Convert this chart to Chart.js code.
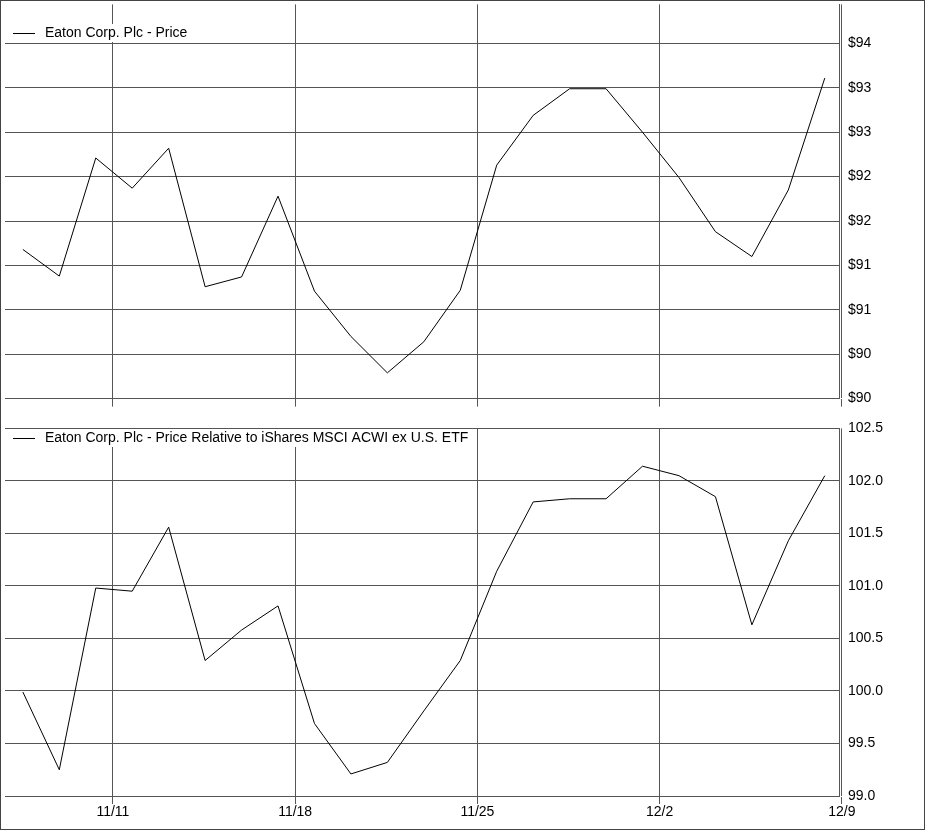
<!DOCTYPE html>
<html><head><meta charset="utf-8">
<script src="https://cdn.jsdelivr.net/npm/chart.js@4"></script>
<style>
body{margin:0;background:#fff;font-family:"Liberation Sans",Arial,sans-serif}
#wrap{position:relative;width:925px;height:830px;box-sizing:border-box;border:1px solid #444;overflow:hidden}
.c{position:absolute;left:0}
</style></head><body>
<div id="wrap">
<div class="c" style="top:-14px;width:923px;height:429px"><canvas id="a"></canvas></div>
<div class="c" style="top:410px;width:923px;height:418px"><canvas id="b"></canvas></div>
</div>
<script>
const priceValues=[91.68,91.38,92.71,92.37,92.82,91.26,91.37,92.28,91.21,90.70,90.29,90.64,91.22,92.63,93.19,93.49,93.49,93.0,92.49,91.88,91.60,92.35,93.61];
const relValues=[99.99,99.25,100.98,100.95,101.56,100.29,100.58,100.81,99.69,99.21,99.32,99.81,100.29,101.14,101.80,101.83,101.83,102.14,102.05,101.85,100.63,101.43,102.05];
const dateLabels=['11/11','11/18','11/25','12/2','12/9'];
const datePos=[2.47,7.47,12.47,17.47,22.47];
const titles=['Eaton Corp. Plc - Price','Eaton Corp. Plc - Price Relative to iShares MSCI ACWI ex U.S. ETF'];
const F='"Liberation Sans", Arial, sans-serif';
Chart.defaults.font.family=F;Chart.defaults.font.size=14;Chart.defaults.color='#000';
function pts(v){return v.map((y,i)=>({x:i,y}));}
function legendPlugin(t,yy){return{id:'lg'+yy,afterDraw(c){const x=c.ctx;x.save();x.font='14px '+F;const w=x.measureText(t).width;
x.fillStyle='#fff';x.fillRect(5,yy-9,44+w-3,18);x.strokeStyle='#000';x.lineWidth=1;x.beginPath();x.moveTo(12,yy+0.5);x.lineTo(34,yy+0.5);x.stroke();
x.fillStyle='#000';x.textBaseline='middle';x.fillText(t,44,yy);x.restore();}};}
function make(id,vals,title,legY,yopt,showX,padTop,xH){
new Chart(document.getElementById(id),{type:'line',
data:{datasets:[{data:pts(vals),borderColor:'#000',borderWidth:1,pointRadius:0,tension:0}]},
options:{responsive:true,maintainAspectRatio:false,animation:false,
layout:{padding:{left:4,top:padTop,right:0,bottom:0}},
plugins:{legend:{display:false},tooltip:{enabled:false}},
scales:{
x:{type:'linear',min:-0.49,max:22.39,
afterBuildTicks(s){s.ticks=datePos.map(v=>({value:v}));},
afterFit(s){s.height=xH;},
grid:{color:'#555',tickLength:8,drawTicks:true},border:{color:'#555'},
ticks:{display:showX,autoSkip:false,maxRotation:0,padding:0,callback:(v,i)=>dateLabels[i]}},
y:Object.assign({position:'right',afterFit(s){s.width=85;},
grid:{color:'#555',tickLength:0},border:{color:'#555'}},yopt)}},
plugins:[legendPlugin(title,legY)]});}
make('a',priceValues,titles[0],46,{min:90,max:94.44,
afterBuildTicks(s){const t=[];for(let v=90;v<=94.001;v+=0.5)t.push({value:v});s.ticks=t;},
ticks:{padding:9,callback:v=>'$'+Math.floor(v+1e-9)}},false,0,12);
make('b',relValues,titles[1],27,{min:99,max:102.5,
afterBuildTicks(s){const t=[];for(let v=99;v<=102.501;v+=0.5)t.push({value:v});s.ticks=t;},
ticks:{padding:9,callback:v=>v.toFixed(1)}},true,12,33);
</script></body></html>
